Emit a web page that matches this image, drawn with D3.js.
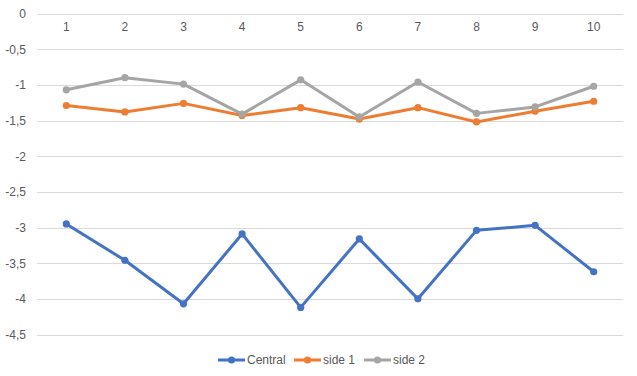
<!DOCTYPE html>
<html>
<head>
<meta charset="utf-8">
<script src="https://cdn.jsdelivr.net/npm/d3@7/dist/d3.min.js"></script>
<style>
  html, body { margin: 0; padding: 0; background: #fff; }
  svg { display: block; font-family: "Liberation Sans", Arial, sans-serif; }
</style>
</head>
<body>
<div id="chart"></div>
<script>
  // données
  const categories = ['1', '2', '3', '4', '5', '6', '7', '8', '9', '10'];
  const central = [-2.95, -3.46, -4.07, -3.09, -4.12, -3.16, -4.00, -3.04, -2.97, -3.62];
  const side1   = [-1.29, -1.38, -1.26, -1.43, -1.32, -1.48, -1.32, -1.52, -1.37, -1.23];
  const side2   = [-1.07, -0.90, -0.99, -1.41, -0.93, -1.45, -0.96, -1.40, -1.31, -1.02];
  const yTicks  = [0, -0.5, -1, -1.5, -2, -2.5, -3, -3.5, -4, -4.5];

  const series = [
    { name: 'Central', values: central, color: '#4472C4' },
    { name: 'side 1',  values: side1,   color: '#ED7D31' },
    { name: 'side 2',  values: side2,   color: '#A5A5A5' },
  ];

  const W = 637, H = 376;
  const m = { left: 37, right: 14, top: 13.5, bottom: 41.5 };

  const svg = d3.select('#chart').append('svg').attr('width', W).attr('height', H);

  const x = d3.scaleBand().domain(categories).range([m.left, W - m.right]);
  const y = d3.scaleLinear().domain([0, -4.5]).range([m.top, H - m.bottom]);

  // grille horizontale
  svg.append('g').selectAll('line').data(yTicks).join('line')
    .attr('x1', m.left).attr('x2', W - m.right)
    .attr('y1', (d) => Math.round(y(d)) + 0.5).attr('y2', (d) => Math.round(y(d)) + 0.5)
    .attr('stroke', '#D9D9D9').attr('stroke-width', 1);

  // axe Y (libellés seulement, virgule décimale)
  const fmt = (d) => String(d).replace('.', ',');
  const yAxis = svg.append('g').attr('transform', `translate(${m.left},0)`)
    .call(d3.axisLeft(y).tickValues(yTicks).tickFormat(fmt).tickSize(0).tickPadding(11));
  yAxis.select('.domain').remove();
  yAxis.selectAll('text').attr('fill', '#595959').attr('font-size', 12)
    .attr('font-family', '"Liberation Sans", Arial, sans-serif');

  // axe X en haut (croise à 0), libellés sous la ligne
  const xAxis = svg.append('g').attr('transform', `translate(0,${y(0)})`)
    .call(d3.axisBottom(x).tickSize(0).tickPadding(9));
  xAxis.select('.domain').remove();
  xAxis.selectAll('text').attr('fill', '#595959').attr('font-size', 12)
    .attr('font-family', '"Liberation Sans", Arial, sans-serif');

  const cx = (i) => x(categories[i]) + x.bandwidth() / 2;
  const line = d3.line().x((d, i) => cx(i)).y((d) => y(d));

  series.forEach((s) => {
    const g = svg.append('g');
    g.append('path').datum(s.values)
      .attr('d', line).attr('fill', 'none')
      .attr('stroke', s.color).attr('stroke-width', 3)
      .attr('stroke-linejoin', 'round').attr('stroke-linecap', 'round');
    g.selectAll('circle').data(s.values).join('circle')
      .attr('cx', (d, i) => cx(i)).attr('cy', (d) => y(d))
      .attr('r', 3.6).attr('fill', s.color);
  });

  // légende
  const legendX = [218, 294, 364];
  const leg = svg.append('g').attr('transform', 'translate(0,360)');
  series.forEach((s, i) => {
    const g = leg.append('g').attr('transform', `translate(${legendX[i]},0)`);
    g.append('line').attr('x1', 0).attr('x2', 27).attr('y1', 0).attr('y2', 0)
      .attr('stroke', s.color).attr('stroke-width', 3);
    g.append('circle').attr('cx', 13.5).attr('cy', 0).attr('r', 3.6).attr('fill', s.color);
    g.append('text').attr('x', 29).attr('y', 0).attr('dy', '0.35em')
      .attr('font-size', 12).attr('fill', '#595959').text(s.name);
  });
</script>
</body>
</html>
